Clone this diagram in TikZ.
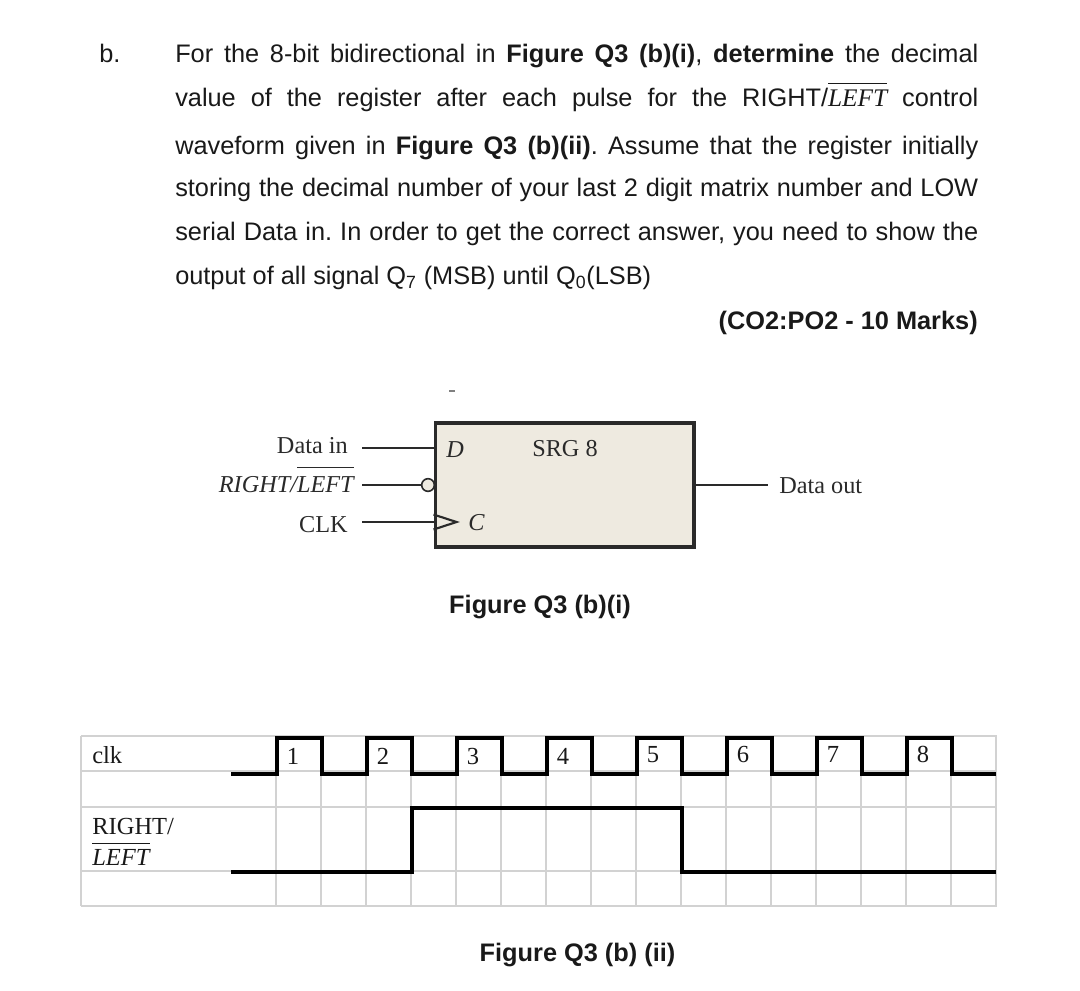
\documentclass[tikz,border=0pt]{standalone}
\usepackage{fontspec}
\usepackage{amsmath}
\setmainfont{Liberation Sans}
\newfontfamily\serifdiag{Liberation Serif}
\usetikzlibrary{
    positioning,
    calc
}
\frenchspacing
\newcommand{\fullline}[1]{\makebox[602.25pt][s]{#1}}
\newcommand{\barleft}[1]{$\overline{\mbox{\rule{0pt}{#1}\serifdiag\itshape LEFT}}$}
\definecolor{boxfill}{HTML}{EEEAE0}
\definecolor{gridgray}{HTML}{D2D2D2}
\definecolor{wirecolor}{HTML}{2A2A2A}
\tikzset{
    bodytext/.style={anchor=base west, inner sep=0pt, text=black!90, font=\fontsize{19pt}{23pt}\selectfont},
    caption/.style={anchor=base, inner sep=0pt, text=black!90, font=\fontsize{19pt}{23pt}\selectfont\bfseries},
    difflabel/.style={inner sep=0pt, text=wirecolor, font=\fontsize{18.2pt}{22pt}\selectfont\serifdiag},
    tablelabel/.style={inner sep=0pt, text=black!90, font=\fontsize{18.4pt}{22pt}\selectfont\serifdiag},
    wire/.style={draw=wirecolor, line width=1.6pt},
    gridline/.style={draw=gridgray, line width=1.1pt},
    wave/.style={draw=black, line width=3pt, line cap=butt, line join=miter}
}

\begin{document}
\begin{tikzpicture}[x=0.75pt, y=-0.75pt]
    \useasboundingbox (0, 0) rectangle (1080, 990);
    % question text
    \node[bodytext] (qmark) at (99, 62.7) {b.};
    \node[bodytext] (lineone) at (175, 62.7) {\fullline{For the 8-bit bidirectional in \textbf{Figure Q3 (b)(i)}, \textbf{determine} the decimal}};
    \node[bodytext] (linetwo) at (175, 106.5) {\fullline{value of the register after each pulse for the RIGHT/\barleft{14.5pt}{} control}};
    \node[bodytext] (linethree) at (175, 154) {\fullline{waveform given in \textbf{Figure Q3 (b)(ii)}. Assume that the register initially}};
    \node[bodytext] (linefour) at (175, 196.7) {\fullline{storing the decimal number of your last 2 digit matrix number and LOW}};
    \node[bodytext] (linefive) at (175, 240.4) {\fullline{serial Data in. In order to get the correct answer, you need to show the}};
    \node[bodytext] (linesix) at (175, 284.4) {output of all signal Q\textsubscript{7} (MSB) until Q\textsubscript{0}(LSB)};
    \node[bodytext, anchor=base east, font=\fontsize{19pt}{23pt}\selectfont\bfseries] (marks) at (978, 329) {(CO2:PO2 - 10 Marks)};

    % register block
    \draw[draw=gray, line width=0.8pt] (449, 391) -- (455, 391);
    \node[draw=wirecolor, fill=boxfill, line width=2.3pt, minimum width=194.2pt, minimum height=93pt, inner sep=0pt] (srg) at (564.5, 485) {};
    \node[difflabel, anchor=base west] (dpin) at (446, 457) {\itshape D};
    \node[difflabel, anchor=base west] (srgname) at (532, 456) {SRG 8};
    \node[difflabel, anchor=base west] (cpin) at (468, 530) {\itshape C};
    \node[difflabel, anchor=base east] (datain) at (348, 453) {Data in};
    \node[difflabel, anchor=base east] (rightleft) at (354, 492) {\itshape RIGHT/\barleft{16pt}};
    \node[difflabel, anchor=base east] (clk) at (348, 532) {CLK};
    \node[difflabel, anchor=base west] (dataout) at (779, 493) {Data out};
    \node[circle, draw=wirecolor, fill=boxfill, line width=1.2pt, minimum size=9.5pt, inner sep=0pt] (bubble) at (428, 485) {};
    \coordinate (datainend) at (362, 448);
    \coordinate (rightleftend) at (362, 485);
    \coordinate (clkend) at (362, 522);
    \coordinate (dataoutend) at (768, 485);
    \draw[wire] (datainend) -- (srg.west |- datainend);
    \draw[wire] (rightleftend) -- (bubble.west);
    \draw[wire] (clkend) -- (srg.west |- clkend);
    \draw[wire] (srg.east) -- (dataoutend);
    \draw[wire] ($(srg.west |- clkend)+(0, -7.5)$) -- ($(srg.west |- clkend)+(23, 0)$) -- ($(srg.west |- clkend)+(0, 7.5)$);
    \node[caption] (figone) at (540, 613) {Figure Q3 (b)(i)};

    % timing table
    \foreach \rowy in {736, 771, 807, 871, 906}
        \draw[gridline] (81, \rowy) -- (997, \rowy);
    \draw[gridline] (81, 736) -- (81, 906);
    \foreach \k in {0, ..., 16}
        \draw[gridline] ({276 + 45*\k}, 736) -- ({276 + 45*\k}, 906);
    \node[tablelabel, anchor=base west] (clklabel) at (92, 763) {clk};
    \node[tablelabel, anchor=base west] (rightlabel) at (92, 834) {RIGHT/};
    \node[tablelabel, anchor=base west] (leftlabel) at (92, 865) {\barleft{14pt}};
    \foreach \k/\rowy in {1/764, 2/764, 3/764, 4/764, 5/762, 6/762, 7/762, 8/762}
        \node[tablelabel, anchor=base] (pulse\k) at ({293 + 90*(\k-1)}, \rowy) {\k};
    \draw[wave] (231, 773.5)
        \foreach \k in {0, ..., 7} {
            -| ({276.7 + 90*\k}, 737.5) -| ({321.7 + 90*\k}, 773.5)
        } -- (996, 773.5);
    \draw[wave] (231, 872.3) -| (411.7, 808.3) -| (681.7, 872.3) -- (996, 872.3);
    \node[caption] (figtwo) at (577.5, 961) {Figure Q3 (b) (ii)};
\end{tikzpicture}
\end{document}
